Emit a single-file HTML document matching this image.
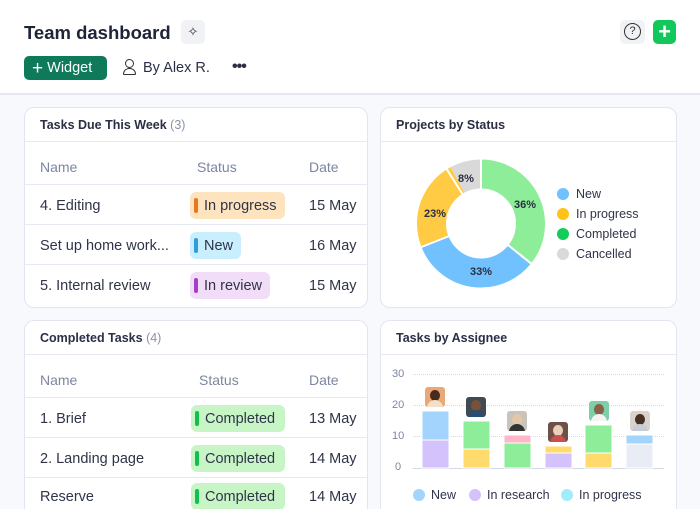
<!DOCTYPE html>
<html><head><style>
*{margin:0;padding:0;box-sizing:border-box}
html,body{width:700px;height:509px;overflow:hidden}
body{background:#f8f9fc;font-family:"Liberation Sans",sans-serif;color:#2a2f45}
#w{position:relative;width:700px;height:509px;overflow:hidden}
.a{position:absolute}
.top{left:0;top:0;width:700px;height:95px;background:#fff;border-bottom:2px solid #e4e7f1}
.card{background:#fff;border:1px solid #e2e5ef;border-radius:10px;overflow:hidden}
.cb{border-bottom:none;border-radius:10px 10px 0 0}
.hl{height:1px;background:#e6e9f2;left:0;right:0}
.ct{font-size:12.5px;font-weight:bold;color:#2a2f45}
.ct span{font-weight:normal;color:#8a92a8}
.th{font-size:14px;color:#7c86a0}
.td{font-size:14.5px;color:#2f3448}
.bd{height:27px;border-radius:6px;font-size:14.5px;line-height:29px;padding-left:14px;color:#2f3448}
.bd i{position:absolute;left:4px;top:6px;width:4px;height:15px;border-radius:2px}
.yl{font-size:11px;color:#7c86a0}
.gl{height:0;border-top:1.5px dotted #d5d9e4}
.av{width:20px;height:20px;border-radius:3px;overflow:hidden}
.av b{position:absolute;left:5px;top:3px;width:10px;height:11px;border-radius:50%;background:#5a3a26}
.av u{position:absolute;left:2px;top:13px;width:16px;height:10px;border-radius:8px 8px 0 0;background:#fff}
.lg{font-size:12.5px;color:#2f3448}
.dot{width:12px;height:12px;border-radius:50%}
</style></head><body><div id="w">
<div class="a top"></div>
<div class="a" style="left:24px;top:22px;font-size:18.5px;font-weight:bold;color:#1f2438">Team dashboard</div>
<div class="a" style="left:181px;top:20px;width:24px;height:24px;background:#f0f2f6;border-radius:5px;font-size:13px;text-align:center;line-height:24px;color:#333">✧</div>
<div class="a" style="left:620px;top:20px;width:25px;height:24px;background:#f0f2f6;border-radius:5px"></div>
<div class="a" style="left:624px;top:23px;width:17px;height:17px;border:1.5px solid #333;border-radius:50%;font-size:11px;text-align:center;line-height:15px;color:#333">?</div>
<div class="a" style="left:653px;top:20px;width:23px;height:24px;background:#13c85a;border-radius:5px;color:#fff;font-size:22px;font-weight:bold;text-align:center;line-height:23px">+</div>
<div class="a" style="left:24px;top:56px;width:83px;height:24px;background:#0e7a5a;border-radius:5px;color:#fff;font-size:14.5px;line-height:24px;padding-left:8px"><span style="font-size:19px;vertical-align:-2px">+</span> Widget</div>
<div class="a" style="left:125px;top:59px;width:9px;height:9px;border:1.3px solid #333;border-radius:50%"></div>
<div class="a" style="left:123px;top:68px;width:13px;height:7px;border:1.3px solid #333;border-radius:6px 6px 1px 1px"></div>
<div class="a" style="left:143px;top:60px;font-size:14.5px;color:#2a2f45">By Alex R.</div>
<div class="a" style="left:232px;top:58px;font-size:16px;font-weight:bold;color:#2a2f45;letter-spacing:-1px">•••</div>

<div class="a card" style="left:24px;top:107px;width:344px;height:201px">
<div class="a ct" style="left:15px;top:10px">Tasks Due This Week <span>(3)</span></div>
<div class="a hl" style="top:33px"></div>
<div class="a th" style="left:15px;top:51px">Name</div><div class="a th" style="left:172px;top:51px">Status</div><div class="a th" style="left:284px;top:51px">Date</div>
<div class="a hl" style="top:76px"></div>
<div class="a td" style="left:15px;top:90px">4. Editing</div>
<div class="a bd" style="left:165px;top:84px;width:95px;background:#fde3be"><i style="background:#e8791b"></i>In progress</div>
<div class="a td" style="left:284px;top:90px">15 May</div>
<div class="a hl" style="top:116px"></div>
<div class="a td" style="left:15px;top:130px">Set up home work...</div>
<div class="a bd" style="left:165px;top:124px;width:51px;background:#c9eefd"><i style="background:#2e9ce0"></i>New</div>
<div class="a td" style="left:284px;top:130px">16 May</div>
<div class="a hl" style="top:156px"></div>
<div class="a td" style="left:15px;top:170px">5. Internal review</div>
<div class="a bd" style="left:165px;top:164px;width:80px;background:#f2ddf9"><i style="background:#a43ec8"></i>In review</div>
<div class="a td" style="left:284px;top:170px">15 May</div>
</div>

<div class="a card cb" style="left:24px;top:320px;width:344px;height:189px">
<div class="a ct" style="left:15px;top:10px">Completed Tasks <span>(4)</span></div>
<div class="a hl" style="top:33px"></div>
<div class="a th" style="left:15px;top:51px">Name</div><div class="a th" style="left:174px;top:51px">Status</div><div class="a th" style="left:284px;top:51px">Date</div>
<div class="a hl" style="top:76px"></div>
<div class="a td" style="left:15px;top:90px">1. Brief</div>
<div class="a bd" style="left:166px;top:84px;width:94px;background:#c8f5c6"><i style="background:#12c04e"></i>Completed</div>
<div class="a td" style="left:284px;top:90px">13 May</div>
<div class="a hl" style="top:116px"></div>
<div class="a td" style="left:15px;top:130px">2. Landing page</div>
<div class="a bd" style="left:166px;top:124px;width:94px;background:#c8f5c6"><i style="background:#12c04e"></i>Completed</div>
<div class="a td" style="left:284px;top:130px">14 May</div>
<div class="a hl" style="top:156px"></div>
<div class="a td" style="left:15px;top:168px">Reserve</div>
<div class="a bd" style="left:166px;top:162px;width:94px;height:27px;background:#c8f5c6"><i style="background:#12c04e"></i>Completed</div>
<div class="a td" style="left:284px;top:168px">14 May</div>
</div>

<div class="a card" style="left:380px;top:107px;width:297px;height:201px">
<div class="a ct" style="left:15px;top:10px">Projects by Status</div>
<div class="a hl" style="top:33px"></div>
</div>
<svg class="a" style="left:0;top:0" width="700" height="509">
<g transform="rotate(-90 481 223.5)" fill="none" stroke-width="29">
<circle cx="481" cy="223.5" r="49.5" stroke="#8eed98" stroke-dasharray="111.96 311"/>
<circle cx="481" cy="223.5" r="49.5" stroke="#70c1fd" stroke-dasharray="0 111.96 102.6 311"/>
<circle cx="481" cy="223.5" r="49.5" stroke="#ffcb45" stroke-dasharray="0 214.56 71.5 311"/>
<circle cx="481" cy="223.5" r="49.5" stroke="#d9d9d9" stroke-dasharray="0 286.06 24.9 311"/>
</g>
<g stroke="#fff" stroke-width="2">
<line x1="481" y1="223.5" x2="481" y2="158"/>
<line x1="481" y1="223.5" x2="535" y2="266.5"/>
<line x1="481" y1="223.5" x2="421.5" y2="247"/>
<line x1="481" y1="223.5" x2="446" y2="168"/>
</g>
<circle cx="481" cy="223.5" r="34" fill="#fff"/>
<g font-family="Liberation Sans" font-size="11" font-weight="bold" fill="#2a2f45" text-anchor="middle">
<text x="525" y="208">36%</text><text x="481" y="275">33%</text><text x="435" y="217">23%</text><text x="466" y="182">8%</text>
</g>
</svg>
<div class="a dot" style="left:557px;top:188px;background:#70c1fd"></div><div class="a lg" style="left:576px;top:187px">New</div>
<div class="a dot" style="left:557px;top:208px;background:#ffc21a"></div><div class="a lg" style="left:576px;top:207px">In progress</div>
<div class="a dot" style="left:557px;top:228px;background:#14cc5a"></div><div class="a lg" style="left:576px;top:227px">Completed</div>
<div class="a dot" style="left:557px;top:248px;background:#d9d9d9"></div><div class="a lg" style="left:576px;top:247px">Cancelled</div>

<div class="a card cb" style="left:380px;top:320px;width:297px;height:189px">
<div class="a ct" style="left:15px;top:10px">Tasks by Assignee</div>
<div class="a hl" style="top:33px"></div>
</div>
<div class="a yl" style="left:392px;top:368px">30</div>
<div class="a yl" style="left:392px;top:399px">20</div>
<div class="a yl" style="left:392px;top:430px">10</div>
<div class="a yl" style="left:395px;top:461px">0</div>
<div class="a gl" style="left:413px;top:374px;width:251px"></div>
<div class="a gl" style="left:413px;top:405px;width:251px"></div>
<div class="a gl" style="left:413px;top:436px;width:251px"></div>
<div class="a" style="left:413px;top:468px;width:251px;height:1px;background:#d5d9e4"></div>
<svg class="a" style="left:0;top:0" width="700" height="509">
<g stroke="#fff" stroke-width="1">
<rect x="422" y="440" width="27" height="28" fill="#d3c2fb"/><rect x="422" y="411" width="27" height="29" fill="#a3d4fd"/>
<rect x="463" y="449" width="27" height="19" fill="#ffdb6e"/><rect x="463" y="421" width="27" height="28" fill="#8eed98"/>
<rect x="504" y="443" width="27" height="25" fill="#8eed98"/><rect x="504" y="435" width="27" height="8" fill="#ffb6c8"/>
<rect x="545" y="453" width="27" height="15" fill="#d3c2fb"/><rect x="545" y="446" width="27" height="7" fill="#ffdb6e"/>
<rect x="585" y="453" width="27" height="15" fill="#ffdb6e"/><rect x="585" y="425" width="27" height="28" fill="#8eed98"/>
<rect x="626" y="444" width="27" height="24" fill="#e9ecf4"/><rect x="626" y="435" width="27" height="9" fill="#a3d4fd"/>
</g></svg>
<div class="a av" style="left:425px;top:387px;background:#e8a878"><b style="background:#4a2a18"></b><u style="background:#f2e0c8"></u></div>
<div class="a av" style="left:466px;top:397px;background:#3f4a52"><b style="background:#7a5038"></b><u style="background:#2a4e70"></u></div>
<div class="a av" style="left:507px;top:411px;background:#c8c4bc"><b style="background:#e5c7a8"></b><u style="background:#333"></u></div>
<div class="a av" style="left:548px;top:422px;background:#6e5048"><b style="background:#ead0b8"></b><u style="background:#c95050"></u></div>
<div class="a av" style="left:589px;top:401px;background:#7dcfa8"><b style="background:#8a6048"></b><u style="background:#f4f4f4"></u></div>
<div class="a av" style="left:630px;top:411px;background:#d8d4cc"><b style="background:#4a3020"></b><u style="background:#c8ccd4"></u></div>
<div class="a dot" style="left:413px;top:489px;background:#a3d4fd"></div><div class="a lg" style="left:431px;top:488px">New</div>
<div class="a dot" style="left:469px;top:489px;background:#d3c2fb"></div><div class="a lg" style="left:487px;top:488px">In research</div>
<div class="a dot" style="left:561px;top:489px;background:#a0ecfb"></div><div class="a lg" style="left:579px;top:488px">In progress</div>
</div></body></html>
